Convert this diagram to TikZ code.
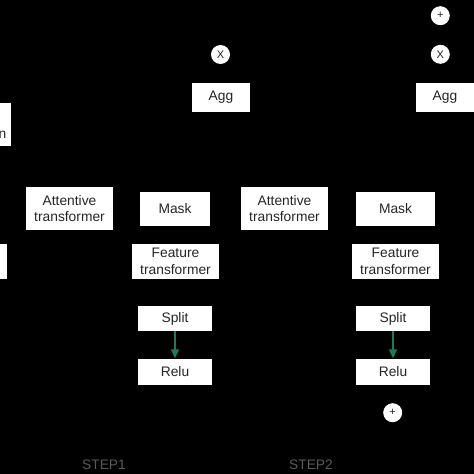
\documentclass[tikz,border=0pt]{standalone}
\usepackage{fontspec}
\setmainfont{Liberation Sans}
\usetikzlibrary{arrows.meta}
\definecolor{txtc}{HTML}{262626}
\definecolor{arrc}{HTML}{1E7A5F}
\definecolor{stepc}{HTML}{5A5A5A}
\tikzset{
  box/.style={rectangle, fill=white, draw=none, text=txtc, inner sep=0pt,
    align=center, font=\fontsize{13.8}{16.5}\selectfont},
  opc/.style={circle, fill=white, draw=none, text=txtc, inner sep=0pt,
    minimum size=19pt, font=\fontsize{11}{12}\selectfont},
  arr/.style={draw=arrc, line width=1.1pt, -{Triangle[length=9pt,width=8pt]}, shorten >=0.5pt},
  steplbl/.style={text=stepc, font=\fontsize{13.8}{16}\selectfont, inner sep=0pt}
}
\begin{document}
\begin{tikzpicture}[x=1pt,y=-1pt]
\fill[black] (0,0) rectangle (474,474);
\useasboundingbox (0,0) rectangle (474,474);
\clip (0,0) rectangle (474,474);
% left partial boxes
\node[box, minimum width=62pt, minimum height=43pt] (la) at (-20,124.5) {};
\node[box, anchor=base, fill=none] (lat) at (2.5,138) {n};
\node[box, minimum width=57pt, minimum height=35pt] (lb) at (-21.5,261.5) {};
% step 1
\node[opc] (mul1) at (220.5,54.5) {X};
\node[box, minimum width=58pt, minimum height=29pt] (agg1) at (221,97.5) {Agg};
\node[box, minimum width=87pt, minimum height=43pt] (attn1) at (69.5,208.5) {Attentive\\transformer};
\node[box, minimum width=70pt, minimum height=34pt] (mask1) at (175,209) {Mask};
\node[box, minimum width=87pt, minimum height=35pt] (feat1) at (175.5,261.5) {Feature\\transformer};
\node[box, minimum width=74pt, minimum height=25pt] (split1) at (175,318.5) {Split};
\node[box, minimum width=74pt, minimum height=26pt] (relu1) at (175,372) {Relu};
\draw[arr] (split1) -- (relu1);
\node[steplbl] (step1) at (104,464.5) {STEP1};
% step 2
\node[opc] (add2t) at (440.3,15.7) {+};
\node[opc] (mul2) at (440.3,54.3) {X};
\node[box, minimum width=58pt, minimum height=29pt] (agg2) at (445,97.5) {Agg};
\node[box, minimum width=87pt, minimum height=43pt] (attn2) at (284.5,208.5) {Attentive\\transformer};
\node[box, minimum width=79pt, minimum height=34pt] (mask2) at (395.5,209) {Mask};
\node[box, minimum width=87pt, minimum height=35pt] (feat2) at (395.5,261.5) {Feature\\transformer};
\node[box, minimum width=74pt, minimum height=25pt] (split2) at (393,318.5) {Split};
\node[box, minimum width=74pt, minimum height=26pt] (relu2) at (393,372) {Relu};
\draw[arr] (split2) -- (relu2);
\node[opc] (add2b) at (392.7,412.7) {+};
\node[steplbl] (step2) at (311,464.5) {STEP2};
\end{tikzpicture}
\end{document}
